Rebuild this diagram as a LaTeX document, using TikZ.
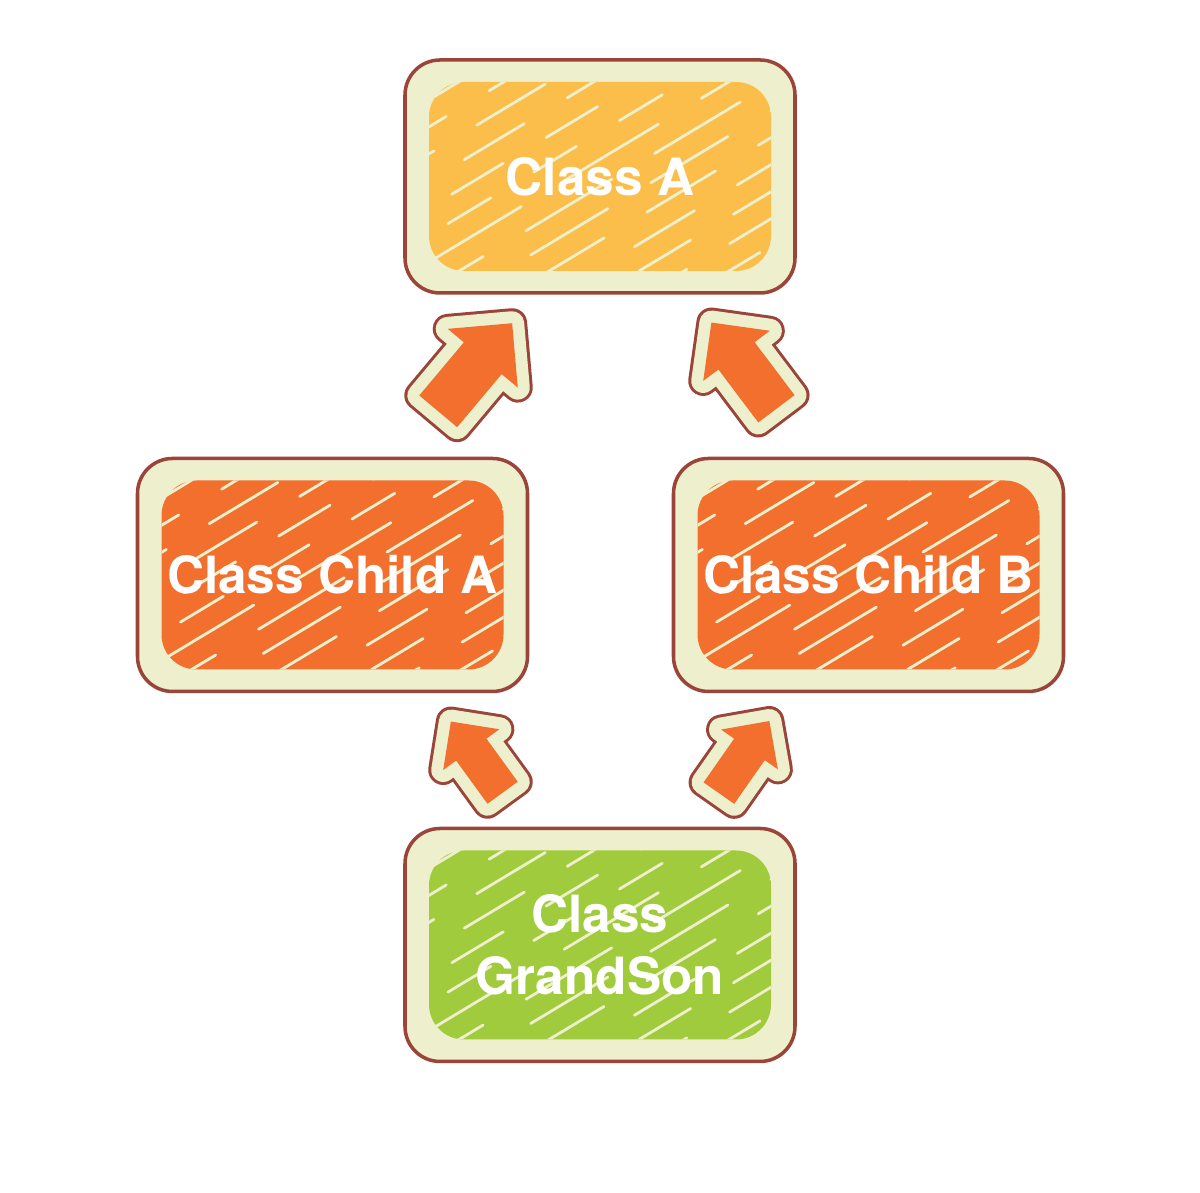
\documentclass[tikz,border=0pt]{standalone}
\usepackage{fontspec}
\setmainfont{TeX Gyre Heros}
\usepackage{xcolor}
\usetikzlibrary{shapes.arrows, positioning, calc}
\definecolor{sketchEdge}{RGB}{155, 68, 58}
\definecolor{sketchCream}{RGB}{238, 239, 204}
\definecolor{sketchYellow}{RGB}{252, 190, 74}
\definecolor{sketchOrange}{RGB}{242, 111, 46}
\definecolor{sketchGreen}{RGB}{160, 203, 61}

\tikzset{
  classbox/.style={draw=sketchEdge, line width=1pt, fill=sketchCream, rounded corners=0.35cm,
    minimum width=3.9cm, minimum height=2.33cm, align=center, text=white,
    font=\fontsize{14.6}{17.6}\selectfont\bfseries,
    path picture={
      \coordinate (pa) at ($(path picture bounding box.south west)+(0.24,0.22)$);
      \coordinate (pb) at ($(path picture bounding box.north east)+(-0.24,-0.22)$);
      \begin{scope}
        \clip[rounded corners=0.15cm] (pa) rectangle (pb);
        \fill[#1] (pa) rectangle (pb);
        \foreach \k [count=\n] in {-5.6,-5.15,...,1.8}{
          \pgfmathsetmacro\ph{mod(\n*37,110)/10}
          \pgfmathsetmacro\on{5+mod(\n*13,7)}
          \draw[sketchCream, line width=0.8pt, line cap=round, dash pattern=on \on mm off 5mm, dash phase=\ph mm]
            ($(path picture bounding box.center)+(\k,-1.3)$) -- ++(31:4.8);
        }
      \end{scope}
    }},
  parentarrow/.style={single arrow, draw=none, fill=sketchOrange, inner xsep=0pt, inner ysep=0.24cm,
    minimum height=1.15cm, single arrow head extend=0.21cm,
    preaction={draw=sketchEdge, line width=0.30cm, line join=round},
    preaction={draw=sketchCream, line width=0.24cm, line join=round}}
}

\begin{document}
\begin{tikzpicture}
  \useasboundingbox (0,0) rectangle (12,11.93);

  % Klassen
  \node[classbox=sketchYellow] (classA) at (6.0, 10.165) {Class A};
  \node[classbox=sketchOrange] (childA) at (3.325, 6.18) {Class Child A};
  \node[classbox=sketchOrange] (childB) at (8.685, 6.18) {Class Child B};
  \node[classbox=sketchGreen] (grandson) at (6.0, 2.48) {Class\\GrandSon};

  % Vererbungspfeile
  \node[parentarrow, rotate=50] (upA) at ($(classA.south west)+(0.64,-0.82)$) {};
  \node[parentarrow, rotate=127, minimum height=1.08cm, inner ysep=0.22cm, single arrow head extend=0.19cm] (upB) at ($(classA.south east)+(-0.46,-0.80)$) {};
  \node[parentarrow, rotate=126, minimum height=0.88cm, inner ysep=0.18cm, single arrow head extend=0.16cm] (upGA) at ($(grandson.north west)+(0.79,0.62)$) {};
  \node[parentarrow, rotate=55, minimum height=0.88cm, inner ysep=0.18cm, single arrow head extend=0.16cm] (upGB) at ($(grandson.north east)+(-0.58,0.62)$) {};
\end{tikzpicture}
\end{document}
